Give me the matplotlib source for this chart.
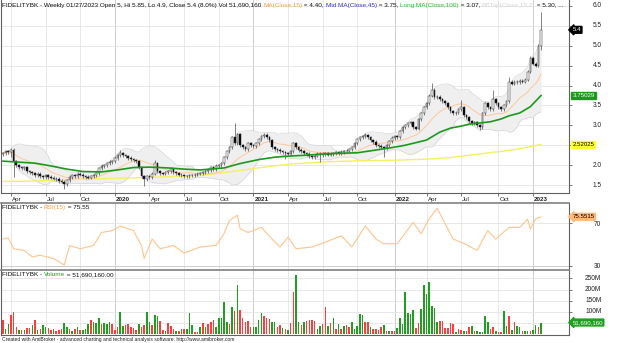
import numpy as np
import pandas as pd
import matplotlib
matplotlib.use("Agg")
import matplotlib.pyplot as plt
import matplotlib.transforms as mtrans

plt.rcParams['font.family'] = ['Liberation Sans', 'DejaVu Sans']

# weekly bars, FIDELITYBK, 2019-03-15 .. 2023-01-27
dates = pd.date_range(end='2023-01-27', periods=203, freq='W-FRI')

opens = [2.28, 2.30, 2.35, 2.32, 2.38, 2.10, 2.00, 1.95, 1.92, 1.95, 1.85, 1.82, 1.80, 1.75, 1.78, 1.72, 1.70, 1.74, 1.70, 1.68,
         1.66, 1.65, 1.60, 1.58, 1.52, 1.62, 1.70, 1.75, 1.72, 1.78, 1.76, 1.72, 1.70, 1.68, 1.72, 1.75, 1.80, 1.92, 1.98, 2.00,
         2.05, 2.08, 2.10, 2.18, 2.25, 2.30, 2.25, 2.22, 2.18, 2.15, 2.12, 2.10, 1.95, 1.72, 1.65, 1.72, 1.70, 1.78, 2.05, 1.85,
         1.80, 1.78, 1.82, 1.85, 1.90, 1.82, 1.80, 1.76, 1.74, 1.72, 1.72, 1.75, 1.74, 1.76, 1.78, 1.80, 1.82, 1.85, 1.88, 1.95,
         1.90, 1.98, 2.00, 2.05, 2.20, 2.35, 2.45, 2.70, 2.55, 2.78, 2.50, 2.45, 2.40, 2.55, 2.50, 2.48, 2.55, 2.65, 2.72, 2.76,
         2.70, 2.62, 2.45, 2.40, 2.38, 2.35, 2.32, 2.30, 2.28, 2.35, 2.55, 2.45, 2.38, 2.35, 2.30, 2.28, 2.22, 2.20, 2.24, 2.28,
         2.25, 2.28, 2.30, 2.26, 2.28, 2.30, 2.32, 2.30, 2.33, 2.35, 2.36, 2.40, 2.45, 2.55, 2.65, 2.70, 2.72, 2.75, 2.70, 2.62,
         2.58, 2.50, 2.48, 2.45, 2.42, 2.50, 2.60, 2.68, 2.72, 2.70, 2.85, 2.95, 3.00, 3.05, 3.08, 2.95, 2.92, 3.15, 3.30, 3.45,
         3.55, 3.75, 3.90, 3.70, 3.72, 3.65, 3.60, 3.55, 3.45, 3.35, 3.30, 3.32, 3.40, 3.45, 3.25, 3.20, 3.10, 3.05, 3.08, 3.00,
         2.95, 3.30, 3.55, 3.45, 3.40, 3.65, 3.55, 3.45, 3.40, 3.50, 3.60, 4.10, 4.05, 4.10, 4.08, 4.12, 4.10, 4.15, 4.35, 4.70,
         4.55, 4.50, 5.00]
highs = [2.34, 2.39, 2.39, 2.42, 2.42, 2.14, 2.04, 1.99, 1.99, 1.99, 1.89, 1.86, 1.84, 1.82, 1.82, 1.76, 1.78, 1.78, 1.74, 1.72,
         1.70, 1.69, 1.64, 1.62, 1.66, 1.74, 1.79, 1.79, 1.82, 1.82, 1.80, 1.76, 1.74, 1.76, 1.79, 1.84, 1.96, 2.02, 2.04, 2.09,
         2.12, 2.14, 2.22, 2.29, 2.38, 2.34, 2.29, 2.26, 2.22, 2.19, 2.16, 2.14, 1.99, 1.76, 1.76, 1.76, 1.82, 2.12, 2.09, 1.89,
         1.84, 1.86, 1.89, 1.95, 1.94, 1.86, 1.84, 1.80, 1.78, 1.76, 1.79, 1.79, 1.80, 1.82, 1.84, 1.86, 1.89, 1.92, 1.99, 1.99,
         2.02, 2.04, 2.09, 2.24, 2.39, 2.49, 2.74, 3.06, 2.82, 2.82, 2.54, 2.49, 2.59, 2.59, 2.54, 2.59, 2.69, 2.76, 2.80, 2.80,
         2.74, 2.66, 2.49, 2.44, 2.42, 2.39, 2.36, 2.34, 2.39, 2.59, 2.59, 2.49, 2.42, 2.39, 2.34, 2.32, 2.26, 2.28, 2.32, 2.32,
         2.32, 2.34, 2.34, 2.32, 2.34, 2.36, 2.36, 2.37, 2.39, 2.40, 2.44, 2.49, 2.59, 2.69, 2.74, 2.76, 2.80, 2.79, 2.74, 2.66,
         2.62, 2.54, 2.52, 2.49, 2.54, 2.64, 2.72, 2.76, 2.76, 2.89, 2.99, 3.04, 3.09, 3.12, 3.12, 2.99, 3.19, 3.34, 3.49, 3.59,
         3.79, 4.06, 3.94, 3.76, 3.76, 3.69, 3.64, 3.59, 3.49, 3.39, 3.36, 3.44, 3.64, 3.49, 3.29, 3.24, 3.14, 3.12, 3.12, 3.04,
         3.34, 3.59, 3.59, 3.49, 3.89, 3.69, 3.59, 3.49, 3.54, 3.64, 4.22, 4.14, 4.14, 4.14, 4.16, 4.16, 4.19, 4.39, 4.74, 4.74,
         4.59, 5.04, 5.85]
lows = [2.24, 2.26, 2.28, 2.20, 1.70, 1.96, 1.91, 1.88, 1.88, 1.81, 1.78, 1.76, 1.71, 1.71, 1.68, 1.66, 1.66, 1.66, 1.64, 1.62,
        1.61, 1.56, 1.54, 1.40, 1.48, 1.58, 1.66, 1.68, 1.68, 1.72, 1.68, 1.66, 1.64, 1.64, 1.68, 1.71, 1.76, 1.88, 1.94, 1.96,
        2.01, 2.04, 2.06, 2.14, 2.21, 2.21, 2.18, 2.14, 2.11, 2.08, 2.06, 1.91, 1.68, 1.48, 1.61, 1.66, 1.66, 1.74, 1.81, 1.76,
        1.74, 1.74, 1.78, 1.81, 1.78, 1.76, 1.72, 1.70, 1.68, 1.68, 1.68, 1.70, 1.70, 1.72, 1.74, 1.76, 1.78, 1.81, 1.84, 1.86,
        1.86, 1.94, 1.96, 2.01, 2.16, 2.31, 2.41, 2.51, 2.51, 2.46, 2.41, 2.36, 2.36, 2.46, 2.44, 2.44, 2.51, 2.61, 2.68, 2.66,
        2.58, 2.41, 2.36, 2.34, 2.31, 2.28, 2.15, 2.24, 2.24, 2.31, 2.41, 2.34, 2.31, 2.26, 2.24, 2.18, 2.16, 2.16, 2.20, 2.08,
        2.21, 2.24, 2.22, 2.22, 2.24, 2.26, 2.26, 2.26, 2.29, 2.31, 2.32, 2.36, 2.41, 2.51, 2.61, 2.66, 2.68, 2.66, 2.58, 2.54,
        2.46, 2.44, 2.41, 2.20, 2.38, 2.46, 2.56, 2.64, 2.66, 2.66, 2.81, 2.91, 2.96, 3.01, 2.91, 2.88, 2.88, 3.11, 3.26, 3.41,
        3.51, 3.71, 3.66, 3.66, 3.61, 3.56, 3.51, 3.41, 3.31, 3.26, 3.26, 3.28, 3.36, 3.21, 3.16, 3.06, 3.01, 3.01, 2.96, 2.88,
        2.91, 3.26, 3.41, 3.36, 3.36, 3.51, 3.41, 3.36, 3.36, 3.46, 3.56, 4.01, 4.01, 4.04, 4.04, 4.06, 4.06, 4.11, 4.31, 4.51,
        4.46, 4.46, 4.90]
closes = [2.30, 2.35, 2.32, 2.38, 2.10, 2.00, 1.95, 1.92, 1.95, 1.85, 1.82, 1.80, 1.75, 1.78, 1.72, 1.70, 1.74, 1.70, 1.68, 1.66,
          1.65, 1.60, 1.58, 1.52, 1.62, 1.70, 1.75, 1.72, 1.78, 1.76, 1.72, 1.70, 1.68, 1.72, 1.75, 1.80, 1.92, 1.98, 2.00, 2.05,
          2.08, 2.10, 2.18, 2.25, 2.30, 2.25, 2.22, 2.18, 2.15, 2.12, 2.10, 1.95, 1.72, 1.65, 1.72, 1.70, 1.78, 2.05, 1.85, 1.80,
          1.78, 1.82, 1.85, 1.90, 1.82, 1.80, 1.76, 1.74, 1.72, 1.72, 1.75, 1.74, 1.76, 1.78, 1.80, 1.82, 1.85, 1.88, 1.95, 1.90,
          1.98, 2.00, 2.05, 2.20, 2.35, 2.45, 2.70, 2.55, 2.78, 2.50, 2.45, 2.40, 2.55, 2.50, 2.48, 2.55, 2.65, 2.72, 2.76, 2.70,
          2.62, 2.45, 2.40, 2.38, 2.35, 2.32, 2.30, 2.28, 2.35, 2.55, 2.45, 2.38, 2.35, 2.30, 2.28, 2.22, 2.20, 2.24, 2.28, 2.25,
          2.28, 2.30, 2.26, 2.28, 2.30, 2.32, 2.30, 2.33, 2.35, 2.36, 2.40, 2.45, 2.55, 2.65, 2.70, 2.72, 2.75, 2.70, 2.62, 2.58,
          2.50, 2.48, 2.45, 2.42, 2.50, 2.60, 2.68, 2.72, 2.70, 2.85, 2.95, 3.00, 3.05, 3.08, 2.95, 2.92, 3.15, 3.30, 3.45, 3.55,
          3.75, 3.90, 3.70, 3.72, 3.65, 3.60, 3.55, 3.45, 3.35, 3.30, 3.32, 3.40, 3.45, 3.25, 3.20, 3.10, 3.05, 3.08, 3.00, 2.95,
          3.30, 3.55, 3.45, 3.40, 3.65, 3.55, 3.45, 3.40, 3.50, 3.60, 4.10, 4.05, 4.10, 4.08, 4.12, 4.10, 4.15, 4.35, 4.70, 4.55,
          4.50, 5.00, 5.40]

# volume in millions of shares, and whether the bar was coloured green
volume = [63, 22, 45, 85, 97, 33, 18, 18, 18, 25, 25, 40, 63, 18, 22, 42, 30, 25, 18, 22,
          15, 18, 21, 50, 30, 22, 15, 22, 33, 18, 18, 22, 45, 63, 52, 48, 72, 45, 48, 45,
          52, 45, 20, 33, 97, 37, 42, 45, 33, 25, 18, 45, 30, 42, 97, 52, 42, 87, 82, 60,
          18, 15, 50, 35, 22, 15, 12, 22, 22, 22, 94, 40, 8, 8, 33, 48, 33, 45, 55, 63,
          30, 72, 72, 145, 55, 45, 120, 105, 222, 108, 72, 52, 60, 33, 33, 33, 63, 93, 82, 72,
          67, 55, 55, 30, 40, 25, 22, 20, 48, 187, 265, 52, 40, 52, 60, 64, 63, 60, 22, 37,
          45, 123, 37, 48, 72, 22, 45, 22, 35, 40, 33, 52, 22, 35, 90, 87, 55, 52, 30, 22,
          22, 18, 30, 42, 15, 15, 15, 12, 27, 72, 45, 187, 94, 90, 108, 27, 48, 112, 222, 180,
          234, 126, 115, 52, 60, 60, 27, 27, 48, 45, 8, 22, 20, 12, 15, 30, 37, 12, 15, 8,
          8, 82, 55, 22, 30, 15, 8, 8, 102, 37, 80, 20, 55, 35, 30, 15, 15, 15, 15, 20,
          40, 33, 51.69]
vol_up = [0, 1, 1, 0, 0, 0, 1, 0, 1, 0, 0, 1, 0, 1, 0, 1, 1, 0, 0, 1,
          0, 0, 0, 1, 1, 0, 1, 0, 1, 0, 1, 1, 1, 0, 1, 1, 1, 0, 1, 1,
          1, 0, 0, 0, 1, 1, 0, 0, 0, 0, 0, 1, 0, 0, 1, 1, 0, 1, 1, 0,
          0, 1, 0, 0, 0, 1, 0, 1, 0, 1, 1, 1, 0, 0, 1, 0, 1, 0, 0, 0,
          1, 1, 1, 1, 1, 0, 1, 0, 1, 0, 0, 0, 0, 0, 1, 1, 1, 1, 0, 0,
          0, 1, 1, 0, 0, 1, 0, 1, 0, 0, 1, 1, 0, 1, 0, 0, 0, 0, 1, 1,
          0, 0, 1, 0, 1, 0, 1, 0, 1, 0, 0, 1, 1, 1, 1, 1, 0, 0, 1, 0,
          0, 0, 0, 1, 0, 1, 0, 0, 1, 1, 1, 1, 1, 1, 1, 0, 0, 1, 1, 1,
          1, 1, 1, 1, 0, 0, 0, 0, 0, 0, 1, 0, 0, 1, 0, 0, 1, 0, 1, 1,
          1, 1, 1, 0, 0, 1, 0, 0, 1, 1, 0, 1, 0, 1, 1, 0, 1, 1, 0, 1,
          1, 0, 1]

# moving averages (week index, value)
mid_ma_weeks = [0, 12, 18, 24, 30, 37, 43, 49, 55, 62, 68, 74, 83, 89, 96, 102, 108, 114, 120, 127,
                133, 139, 145, 151, 159, 164, 168, 172, 175, 179, 183, 187, 190, 194, 198, 202]
mid_ma = [2.10, 2.05, 1.98, 1.90, 1.84, 1.83, 1.88, 1.94, 1.95, 1.93, 1.90, 1.88, 1.93, 2.04, 2.14, 2.20, 2.23, 2.25, 2.28, 2.30,
          2.31, 2.37, 2.43, 2.50, 2.63, 2.83, 2.93, 2.98, 3.03, 3.06, 3.09, 3.16, 3.24, 3.31, 3.47, 3.75]
long_ma_weeks = [0, 12, 24, 37, 49, 62, 74, 85, 96, 108, 120, 133, 145, 159, 168, 180, 190, 197, 202]
long_ma = [1.59, 1.60, 1.64, 1.66, 1.68, 1.71, 1.74, 1.83, 1.93, 2.03, 2.08, 2.11, 2.12, 2.15, 2.19, 2.29, 2.37, 2.45, 2.52]

# RSI(15) (week index, value)
rsi_weeks = [0, 2, 4, 8, 11, 14, 19, 23, 25, 29, 34, 37, 41, 44, 49, 52, 53, 56, 59, 64,
             68, 74, 80, 83, 85, 88, 89, 92, 97, 101, 104, 107, 110, 116, 121, 127, 131, 136, 140, 143,
             148, 154, 157, 160, 163, 166, 169, 173, 178, 182, 185, 190, 194, 197, 198, 200, 202]
rsi_vals = [55, 56, 46, 44.5, 38.5, 40, 37, 31, 49, 46, 49, 61, 62.7, 67, 62.7, 49, 37, 55, 46, 49,
            42, 47.6, 49, 60, 72, 77, 64.5, 61, 65.7, 55, 47.6, 56.6, 46, 47.6, 52, 58, 47.6, 67, 55, 50.6,
            50.6, 70.3, 60, 73.6, 83.4, 69, 55, 51, 44.5, 62.7, 55, 65.7, 65.7, 73.3, 64, 73.6, 75.55]

# ------------------------------------------------------------------
n = len(closes)
idx = np.arange(n)
o = np.array(opens)
h = np.array(highs)
l = np.array(lows)
c = np.array(closes)
cs = pd.Series(c)

ma15 = cs.rolling(15, min_periods=1).mean()
sd15 = cs.rolling(15, min_periods=3).std(ddof=0)
bb_top = ma15 + 2 * sd15
bb_bot = ma15 - 2 * sd15

W, H = 624, 343
fig = plt.figure(figsize=(W / 100, H / 100), dpi=100)
fig.patch.set_facecolor('white')


def pane(top, bottom):
    return fig.add_axes([1 / W, 1 - bottom / H, 568 / W, (bottom - top) / H])


ax = pane(0, 193)
ax_rsi = pane(203, 270)
ax_vol = pane(270, 335)

xlim = (-0.75, 212.5)
grid_c = '#e4e4e4'
year_c = '#c4c4c4'
spine_c = '#606060'
lab_c = '#202020'

# month ticks (first bar of Jan/Apr/Jul/Oct)
tick_pos, tick_lab, tick_year = [], [], []
for j in range(1, n):
    d = dates[j]
    if d.month != dates[j - 1].month and d.month in (1, 4, 7, 10):
        tick_pos.append(j)
        tick_year.append(d.month == 1)
        tick_lab.append(str(d.year) if d.month == 1 else d.strftime('%b'))

for a in (ax, ax_rsi, ax_vol):
    a.set_xlim(*xlim)
    for p, yr in zip(tick_pos, tick_year):
        a.axvline(p, color=year_c if yr else grid_c, lw=0.6, zorder=0)
    a.spines['top'].set_visible(False)
    for s in ('left', 'right', 'bottom'):
        a.spines[s].set_color(spine_c)
        a.spines[s].set_linewidth(0.8)
    a.tick_params(axis='y', left=False, right=True, labelleft=False, labelright=False,
                  direction='out', length=2.5, width=0.6, color=spine_c)


def right_label(a, v, s):
    a.text(1.057, v, s, transform=a.get_yaxis_transform(), ha='right', va='center',
           fontsize=4.7, color=lab_c)


def value_box(a, v, s, fc, tc, style):
    a.text(1.006, v, s, transform=a.get_yaxis_transform(), ha='left', va='center', fontsize=4.4,
           color=tc, bbox=dict(boxstyle=style + ',pad=0.15', fc=fc, ec=fc), clip_on=False, zorder=10)


# ---------------- price pane ----------------
price_ticks = [1.5, 2.0, 2.5, 3.0, 3.5, 4.0, 4.5, 5.0, 5.5, 6.0]
ax.set_ylim(1.30, 6.15)
ax.set_yticks(price_ticks)
for v in price_ticks:
    ax.axhline(v, color=grid_c, lw=0.6, zorder=0)
    if v != 2.5:  # hidden behind the long MA value box
        right_label(ax, v, f'{v:.1f}')

ax.fill_between(idx, bb_bot, bb_top, color='#efefef', lw=0, zorder=1)
ax.plot(idx, bb_top, color='#d6d6d6', lw=0.5, zorder=1)
ax.plot(idx, bb_bot, color='#d6d6d6', lw=0.5, zorder=1)
ax.plot(long_ma_weeks, long_ma, color='#f4f060', lw=1.0, zorder=2)
ax.plot(idx, ma15, color='#ffc89a', lw=0.7, zorder=2)

up = c >= o
ax.vlines(idx, l, h, color='#505050', lw=0.5, zorder=3)
body = np.maximum(np.abs(c - o), 0.008)
ax.bar(idx, body, bottom=np.minimum(o, c), width=0.62,
       color=np.where(up, 'white', 'black'), edgecolor='#303030', linewidth=0.35, zorder=4)
ax.plot(mid_ma_weeks, mid_ma, color='#1a9a1a', lw=1.2, zorder=5)

ax.set_xticks(tick_pos)
ax.set_xticklabels(tick_lab)
ax.tick_params(axis='x', direction='out', length=2.5, width=0.6, color=spine_c, pad=0.5,
               labelsize=4.5, labelcolor=lab_c)
shift = mtrans.ScaledTranslation(1 / 100, 0, fig.dpi_scale_trans)
for lbl, yr in zip(ax.get_xticklabels(), tick_year):
    lbl.set_ha('left')
    lbl.set_transform(lbl.get_transform() + shift)
    if yr:
        lbl.set_fontweight('bold')

value_box(ax, closes[-1], '5.4', 'black', 'white', 'larrow')
value_box(ax, mid_ma[-1], '3.75029', '#1a9a1a', 'white', 'square')
value_box(ax, long_ma[-1], '2.52025', '#ffff30', 'black', 'square')

# ---------------- RSI pane ----------------
ax_rsi.set_ylim(26.4, 88.2)
ax_rsi.set_yticks([30, 70])
ax_rsi.set_xticks([])
for v in (30, 70):
    ax_rsi.axhline(v, color=grid_c, lw=0.6, zorder=0)
ax_rsi.axhline(30, color='#c8c8c8', lw=0.6, zorder=0)
right_label(ax_rsi, 30, '30')
right_label(ax_rsi, 68.6, '70')
ax_rsi.plot(rsi_weeks, rsi_vals, color='#ffc48c', lw=0.8, zorder=2)
ax_rsi.spines['top'].set_visible(True)
ax_rsi.spines['top'].set_color('#808080')
ax_rsi.spines['top'].set_linewidth(1.2)
value_box(ax_rsi, rsi_vals[-1], '75.5515', '#ffb878', 'black', 'larrow')

# ---------------- volume pane ----------------
vol_ticks = [100, 150, 200, 250]
ax_vol.set_ylim(-4.5, 288)
ax_vol.set_yticks([50] + vol_ticks)
ax_vol.set_xticks([])
for v in [50] + vol_ticks:
    ax_vol.axhline(v, color=grid_c, lw=0.6, zorder=0)
for v in vol_ticks:
    right_label(ax_vol, v, f'{v}M')
vcol = np.where(np.array(vol_up) == 1, '#1f9e1f', '#ff3c3c')
ax_vol.bar(idx, volume, width=0.58, color=vcol, lw=0, zorder=2)
ax_vol.spines['top'].set_visible(True)
ax_vol.spines['top'].set_color('#808080')
ax_vol.spines['top'].set_linewidth(1.2)
value_box(ax_vol, volume[-1], '51,690,160', '#1f9e1f', 'white', 'larrow')

# ---------------- titles ----------------
renderer = fig.canvas.get_renderer()


def rich(x_px, y_px, pieces, size, clip=None):
    for s, col in pieces:
        t = fig.text(x_px / W, 1 - y_px / H, s, color=col, fontsize=size, ha='left', va='center')
        if clip is not None:
            t.set_clip_box(clip.bbox)
            t.set_clip_on(True)
        x_px = t.get_window_extent(renderer=renderer).x1


rich(2, 5, [('FIDELITYBK - Weekly 01/27/2023 Open 5, Hi 5.85, Lo 4.9, Close 5.4 (8.0%) Vol 51,690,160 ', '#101010'),
            ('MA(Close,15)', '#f5a04a'), (' = 4.40, ', '#101010'),
            ('Mid MA(Close,45)', '#3535d0'), (' = 3.75, ', '#101010'),
            ('Long MA(Close,100)', '#22c022'), (' = 3.07, ', '#101010'),
            ('BBTop(Close,15,2)', '#d4d4d4'), (' = 5.30, ...', '#101010')], 4.6, clip=ax)
rich(2, 207, [('FIDELITYBK - ', '#101010'), ('RSI(15)', '#f5a04a'), (' = 75.55', '#101010')], 4.6)
rich(2, 275, [('FIDELITYBK - ', '#101010'), ('Volume', '#22a022'), (' = 51,690,160.00', '#101010')], 4.6)
fig.text(2 / W, 1 - 339.5 / H,
         'Created with AmiBroker - advanced charting and technical analysis software. http://www.amibroker.com',
         fontsize=3.6, color='#202020', ha='left', va='center')

fig.savefig('out.png', dpi=100)
